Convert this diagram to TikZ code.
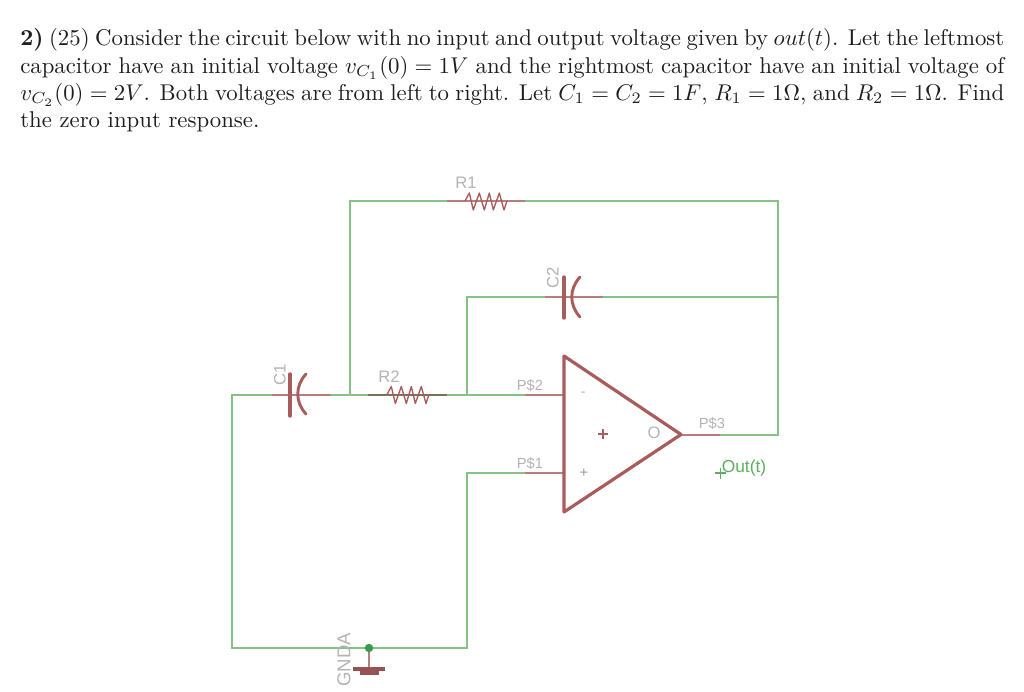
\documentclass[tikz,border=0pt]{standalone}
\usepackage[no-math]{fontspec}
\usepackage{graphicx}
\newfontfamily\lblfont{Liberation Sans}
\definecolor{wirec}{HTML}{85C285}
\definecolor{symc}{HTML}{A85C5C}
\definecolor{lblc}{HTML}{B4B4B4}
\definecolor{outc}{HTML}{5DB05D}
\definecolor{txtc}{HTML}{1E1E1E}
\definecolor{dotc}{HTML}{3A9A4A}
\newcommand{\pline}[1]{\scalebox{1.71}{\hbox to 431.6pt{#1}}}
\tikzset{
 wire/.style={draw=wirec,line width=1.5pt,line join=miter},
 pinline/.style={draw=symc!80!white,line width=1.5pt},
 sym/.style={draw=symc,line width=1.1pt,line join=round},
 plate/.style={draw=symc,line width=2.6pt,line cap=round},
 lbl/.style={text=lblc,font=\lblfont\fontsize{11}{11}\selectfont,inner sep=0pt},
 lblb/.style={lbl,font=\lblfont\fontsize{12.5}{12.5}\selectfont},
 ptext/.style={anchor=base west,inner sep=0pt,text=txtc},
 res/.pic={\draw[sym,line width=1pt] (0,0) -- ++(4.3,-8) -- ++(4,17) -- ++(6,-17) -- ++(5,17) -- ++(5,-17) -- ++(4,17) -- ++(6,-17) -- ++(4.7,17) -- ++(3,-9);}
}
\begin{document}
\begin{tikzpicture}[x=0.75pt,y=-0.75pt]
\useasboundingbox[fill=white] (0,0) rectangle (1024,692);
% statement
\node[ptext] (l1) at (20,46) {\pline{\textbf{2)} (25) Consider the circuit below with no input and output voltage given by $out(t)$. Let the leftmost}};
\node[ptext] (l2) at (20,73.5) {\pline{capacitor have an initial voltage $v_{C_1}(0)=1V$ and the rightmost capacitor have an initial voltage of}};
\node[ptext] (l3) at (20,100.5) {\pline{$v_{C_2}(0)=2V$. Both voltages are from left to right. Let $C_1=C_2=1F$, $R_1=1\Omega$, and $R_2=1\Omega$. Find}};
\node[ptext] (l4) at (20,127.5) {\scalebox{1.71}{the zero input response.}};
% points
\coordinate (tl) at (350,201);
\coordinate (tr) at (778,201);
\coordinate (j1) at (350,394.5);
\coordinate (j2) at (466.5,394.5);
\coordinate (c2l) at (466.5,297);
\coordinate (c2r) at (778,297);
\coordinate (outr) at (778,434.5);
\coordinate (c1a) at (272,394.5);
\coordinate (c1b) at (331,394.5);
\coordinate (lc) at (232,394.5);
\coordinate (bl) at (232,648);
\coordinate (gj) at (369,648);
\coordinate (br) at (466.5,648);
\coordinate (p1w) at (466.5,472.5);
\coordinate (p1a) at (525,472.5);
\coordinate (p2a) at (525,394.5);
\coordinate (ap) at (564,472.5);
\coordinate (an) at (564,394.5);
\coordinate (ao) at (681,434.5);
\coordinate (oa) at (720,434.5);
\coordinate (r1a) at (447,201);
\coordinate (r1b) at (525,201);
\coordinate (c2a) at (545,297);
\coordinate (c2b) at (603,297);
\coordinate (r2a) at (368,394.5);
\coordinate (r2b) at (447,394.5);
% wires
\draw[wire] (j1) -- (tl) -- (r1a);
\draw[wire] (r1b) -- (tr) -- (outr) -- (oa);
\draw[wire] (j2) -- (c2l) -- (c2a);
\draw[wire] (c2b) -- (c2r);
\draw[wire] (c1a) -- (lc) -- (bl) -- (br) -- (p1w) -- (p1a);
\draw[wire] (c1b) -- (r2a);
\draw[wire] (r2b) -- (p2a);
% pins
\draw[pinline] (r1a) -- (r1b);
\draw[pinline] (c2a) -- (c2b);
\draw[pinline] (c1a) -- (c1b);
\draw[draw=symc!50!wirec!80!black,line width=1.5pt] (r2a) -- (r2b);
\draw[pinline] (p1a) -- (ap);
\draw[pinline] (p2a) -- (an);
\draw[pinline] (ao) -- (oa);
% resistors
\pic at (465,201) {res};
\pic at (387,394.5) {res};
% capacitors
\draw[plate] (564,277) -- (564,318);
\draw[plate,line width=2.2pt] (580,277) .. controls (569,289) and (569,305) .. (580,317);
\draw[plate] (290,374) -- (290,416);
\draw[plate,line width=2.2pt] (306,374) .. controls (295,386) and (295,402) .. (306,414);
% op-amp
\draw[symc,line width=2.4pt,line join=round] (564,356) -- (564,512) -- (ao) -- cycle;
\draw[symc,line width=.9pt] (598,434) -- (608,434) (603,429) -- (603,439);
% ground
\draw[pinline,line width=1.2pt] (gj) -- (369,668);
\fill[symc!90!black] (353,667) rectangle (385,671);
\fill[symc!90!black] (360,671) rectangle (379,674.5);
\fill[dotc] (gj) circle (4.2);
% labels
\node[lblb] (tr1) at (466,182.5) {R1};
\node[lblb,rotate=90] (tc2) at (553,278) {C2};
\node[lblb] (tr2) at (389,376.5) {R2};
\node[lblb,rotate=90] (tc1) at (280,375) {C1};
\node[lbl] (tp2) at (530,386) {P\$2};
\node[lbl] (tp1) at (530,464) {P\$1};
\node[lbl] (tp3) at (712,424) {P\$3};
\node[lblb] (to) at (654,433) {O};
\node[lbl] (tm) at (583,394) {-};
\node[lbl,text=gray!80!white] (tplus) at (584,473) {+};
\node[lbl,rotate=90,font=\lblfont\fontsize{14}{14}\selectfont] (tg) at (344,660) {GNDA};
\node[inner sep=0pt,text=outc,font=\lblfont\fontsize{13}{13}\selectfont] (tout) at (744,468) {Out(t)};
\draw[outc,line width=.9pt] (715,473) -- (726,473) (720.5,468) -- (720.5,479);
\end{tikzpicture}
\end{document}
